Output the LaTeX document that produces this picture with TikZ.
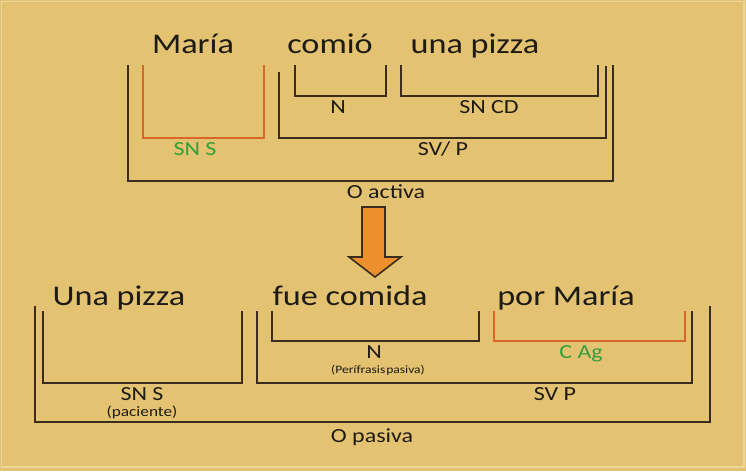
\documentclass[tikz,border=0pt]{standalone}
\usepackage{fontspec}
\setmainfont[FakeStretch=1.2]{Carlito}
\definecolor{bg}{HTML}{E3C371}
\definecolor{bgedge}{HTML}{EDD69A}
\definecolor{ink}{HTML}{1E1A14}
\definecolor{brk}{HTML}{3A2C1C}
\definecolor{org}{HTML}{D8682A}
\definecolor{grn}{HTML}{34A03C}
\definecolor{arrowfill}{HTML}{EE8F2E}
\tikzset{
  big/.style={anchor=base,inner sep=0pt,text=ink,font=\fontsize{28.5}{30}\selectfont},
  lab/.style={anchor=base,inner sep=0pt,text=ink,font=\fontsize{20}{22}\selectfont},
  glab/.style={anchor=base,inner sep=0pt,text=grn,font=\fontsize{20}{22}\selectfont},
  tiny/.style={anchor=base,inner sep=0pt,text=ink,font=\fontsize{11.3}{12}\selectfont},
  small/.style={anchor=base,inner sep=0pt,text=ink,font=\fontsize{14.4}{15}\selectfont},
  brack/.style={draw=brk,line width=1.4pt},
  obrack/.style={draw=org,line width=1.4pt},
}
\begin{document}
\begin{tikzpicture}[x=1pt,y=-1pt]
\fill[bg] (0,0) rectangle (746,471);
\useasboundingbox (0,0) rectangle (746,471);
\draw[bgedge,line width=1.5pt] (1.5,1.5) rectangle (744,467);
% ---- active sentence ----
\node[big] (maria) at (193,53) {María};
\node[big] (comio) at (330,53) {comió};
\node[big] (pizza) at (475,53) {una pizza};
\draw[brack] (128,65) -- (128,181) -- (613,181) -- (613,65);
\draw[obrack] (143,65) -- (143,138) -- (264,138) -- (264,65);
\draw[brack] (279,72) -- (279,138) -- (606,138) -- (606,66);
\draw[brack] (295,65) -- (295,96) -- (386,96) -- (386,65);
\draw[brack] (401,65) -- (401,96) -- (598,96) -- (598,65);
\node[glab] (sns1) at (195,155) {SN S};
\node[lab] (n1) at (338,113) {N};
\node[lab] (sncd) at (489,113) {SN CD};
\node[lab] (svp1) at (443,155) {SV/ P};
\node[lab] (oact) at (386,198) {O activa};
% ---- arrow ----
\draw[fill=arrowfill,draw=brk,line width=1.6pt,line join=miter]
  (362,207) -- (385,207) -- (385,257) -- (401,257) -- (375,277) -- (349,257) -- (362,257) -- cycle;
% ---- passive sentence ----
\node[big] (unapizza) at (119,305) {Una pizza};
\node[big] (fue) at (350,305) {fue comida};
\node[big] (por) at (566,305) {por María};
\draw[brack] (35,306) -- (35,422) -- (710,422) -- (710,306);
\draw[brack] (43,311) -- (43,383) -- (242,383) -- (242,311);
\draw[brack] (257,311) -- (257,383) -- (692,383) -- (692,311);
\draw[brack] (272,311) -- (272,341) -- (479,341) -- (479,311);
\draw[obrack] (494,311) -- (494,341) -- (685,341) -- (685,311);
\node[lab] (n2) at (374,358) {N};
\node[tiny] (perif) at (378,373) {(Perífrasis\hspace{0.08em}pasiva)};
\node[glab] (cag) at (581,358) {C Ag};
\node[lab] (sns2) at (142,400) {SN S};
\node[small] (pac) at (142,416) {(paciente)};
\node[lab] (svp2) at (555,400) {SV P};
\node[lab] (opas) at (372,442) {O pasiva};
\end{tikzpicture}
\end{document}
